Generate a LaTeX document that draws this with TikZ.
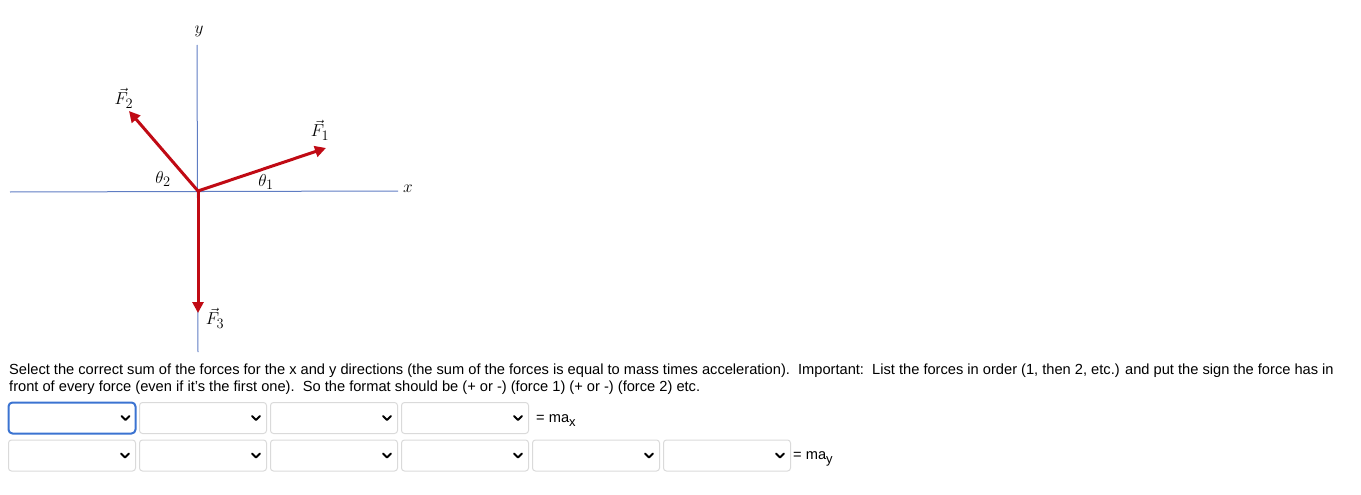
\documentclass[tikz,border=0pt]{standalone}
\usepackage{fontspec}
\setmainfont{Liberation Sans}
\usetikzlibrary{arrows.meta}
\definecolor{forcered}{RGB}{192,10,20}
\definecolor{axisblue}{RGB}{95,125,195}
\definecolor{selblue}{RGB}{59,115,209}
\definecolor{boxgray}{RGB}{218,218,218}
\tikzset{
  axis/.style={axisblue, line width=1pt},
  force/.style={forcered, line width=3pt, -{Triangle[length=11pt,width=11pt]}},
  lbl/.style={font=\fontsize{19}{22}\selectfont, inner sep=0pt},
  pick/.style={draw=boxgray, line width=1pt, rounded corners=3pt, minimum width=127pt, minimum height=31pt, inner sep=0pt},
  chev/.style={line width=1.8pt, line cap=round, line join=round},
  txt/.style={font=\fontsize{14.65}{17}\selectfont, inner sep=0pt, anchor=base west}
}
\newcommand{\mysub}[1]{\raisebox{-4pt}{\fontsize{13}{13}\selectfont #1}}
\begin{document}
\begin{tikzpicture}[x=1pt,y=-1pt]
\useasboundingbox (0,0) rectangle (1361,495);
% axes
\coordinate (O) at (198,191);
\coordinate (xl) at (10,192);
\coordinate (xr) at (398,191);
\coordinate (yt) at (197,45);
\coordinate (yb) at (198,352);
\draw[axis] (xl) -- (xr);
\draw[axis] (yt) -- (yb);
\node[lbl] (xlab) at (408,189) {$x$};
\node[lbl] (ylab) at (199,31) {$y$};
% forces
\coordinate (f1) at (326,148);
\coordinate (f2) at (129,111);
\coordinate (f3) at (198,313);
\draw[force] (O) -- (f1);
\draw[force] (O) -- (f2);
\draw[force] (O) -- (f3);
\node[lbl] (F1) at (320,130) {$\vec{F}_1$};
\node[lbl] (F2) at (124,98) {$\vec{F}_2$};
\node[lbl] (F3) at (215,318) {$\vec{F}_3$};
\node[lbl] (t1) at (266,182) {$\theta_1$};
\node[lbl] (t2) at (163,179) {$\theta_2$};
% question
\node[txt] (q1) at (9,374) {Select the correct sum of the forces for the x and y directions (the sum of the forces is equal to mass times acceleration).\ \ Important:\ \ List the forces in order (1, then 2, etc.) and put the sign the force has in};
\node[txt] (q2) at (9,391) {front of every force (even if it's the first one).\ \ So the format should be (+ or -) (force 1) (+ or -) (force 2) etc.};
% dropdowns
\node[pick, draw=selblue, line width=2pt, rounded corners=4pt] (a1) at (72,418) {};
\foreach \i in {2,...,4}
  \node[pick] (a\i) at ({72+131*(\i-1)},418) {};
\foreach \i in {1,...,6}
  \node[pick] (b\i) at ({72+131*(\i-1)},455.5) {};
\foreach \n in {a1,a2,a3,a4,b1,b2,b3,b4,b5,b6}
  \draw[chev] (\n.east) ++(-15,-2) -- ++(4,4) -- ++(4,-4);
\node[txt] (max) at (536,422) {= ma\mysub{x}};
\node[txt] (may) at (793,459) {= ma\mysub{y}};
\end{tikzpicture}
\end{document}
